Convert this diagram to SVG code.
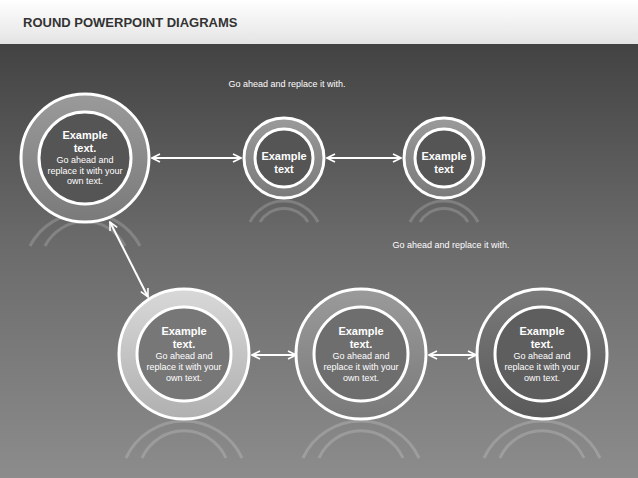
<svg xmlns="http://www.w3.org/2000/svg" width="638" height="478" viewBox="0 0 638 478">
<defs>
<linearGradient id="bg" x1="0" y1="0" x2="0" y2="1"><stop offset="0" stop-color="#3a3a3a"/><stop offset="0.5" stop-color="#6a6a6a"/><stop offset="1" stop-color="#8c8c8c"/></linearGradient>
<linearGradient id="hd" x1="0" y1="0" x2="0" y2="1"><stop offset="0" stop-color="#ffffff"/><stop offset="1" stop-color="#e4e4e4"/></linearGradient>
<linearGradient id="ringL" x1="0" y1="0" x2="0" y2="1"><stop offset="0" stop-color="#d8d8d8"/><stop offset="1" stop-color="#b0b0b0"/></linearGradient>
<linearGradient id="ringM" x1="0" y1="0" x2="0" y2="1"><stop offset="0" stop-color="#9a9a9a"/><stop offset="1" stop-color="#7a7a7a"/></linearGradient>
<linearGradient id="ringD" x1="0" y1="0" x2="0" y2="1"><stop offset="0" stop-color="#7a7a7a"/><stop offset="1" stop-color="#5a5a5a"/></linearGradient>
<marker id="ah" viewBox="0 0 10 10" refX="9" refY="5" markerWidth="5" markerHeight="5" orient="auto-start-reverse"><path d="M1,1 L9,5 L1,9" fill="none" stroke="#fff" stroke-width="1.6"/></marker>
</defs>
<style>
.o{stroke:#fff;stroke-width:3}
.i{stroke:#fff;stroke-width:3}
.t{font-family:"Liberation Sans",Arial,sans-serif;fill:#fff;text-anchor:middle}
.b{font-weight:bold;font-size:11px}
.s{font-size:9px}
.r{fill:none;stroke:#fff;stroke-opacity:0.18;stroke-width:3}
.c{stroke:#fff;stroke-width:2;fill:none;marker-start:url(#ah);marker-end:url(#ah)}
</style>
<rect width="638" height="478" fill="url(#bg)"/>
<rect width="638" height="44" fill="url(#hd)"/>
<text x="23" y="27" font-family="Liberation Sans,Arial,sans-serif" font-weight="bold" font-size="13" fill="#333">ROUND POWERPOINT DIAGRAMS</text>
<text class="t" x="287" y="87" font-size="9">Go ahead and replace it with.</text>
<text class="t" x="451" y="248" font-size="9">Go ahead and replace it with.</text>
<g id="reflections">
<path class="r" d="M30,246 A62,62 0 0 1 140,246"/><path class="r" d="M45,246 A45,45 0 0 1 125,246"/>
<path class="r" d="M250,222 A38,38 0 0 1 318,222"/><path class="r" d="M260,222 A28,28 0 0 1 308,222"/>
<path class="r" d="M410,222 A38,38 0 0 1 478,222"/><path class="r" d="M420,222 A28,28 0 0 1 468,222"/>
<path class="r" d="M126,458 A64,64 0 0 1 242,458"/><path class="r" d="M142,458 A46,46 0 0 1 226,458"/>
<path class="r" d="M303,458 A64,64 0 0 1 419,458"/><path class="r" d="M319,458 A46,46 0 0 1 403,458"/>
<path class="r" d="M484,458 A64,64 0 0 1 600,458"/><path class="r" d="M500,458 A46,46 0 0 1 584,458"/>
</g>
<g id="connectors">
<line class="c" x1="152" y1="158" x2="241" y2="158"/>
<line class="c" x1="327" y1="158" x2="401" y2="158"/>
<line class="c" x1="110" y1="222" x2="148" y2="297"/>
<line class="c" x1="252" y1="355" x2="296" y2="355"/>
<line class="c" x1="429" y1="355" x2="476" y2="355"/>
</g>
<g id="nodeA"><circle class="o" cx="85" cy="158" r="64" fill="url(#ringM)"/><circle class="i" cx="85" cy="158" r="46" fill="#555"/>
<text class="t b" x="85" y="139">Example</text><text class="t b" x="85" y="152">text.</text>
<text class="t s" x="85" y="163">Go ahead and</text><text class="t s" x="85" y="174">replace it with your</text><text class="t s" x="85" y="184">own text.</text></g>
<g id="nodeB"><circle class="o" cx="284" cy="158" r="40" fill="url(#ringM)"/><circle class="i" cx="284" cy="158" r="29" fill="#555"/>
<text class="t b" x="284" y="160">Example</text><text class="t b" x="284" y="173">text</text></g>
<g id="nodeC"><circle class="o" cx="444" cy="158" r="40" fill="url(#ringM)"/><circle class="i" cx="444" cy="158" r="29" fill="#555"/>
<text class="t b" x="444" y="160">Example</text><text class="t b" x="444" y="173">text</text></g>
<g id="nodeD"><circle class="o" cx="184" cy="354" r="65" fill="url(#ringL)"/><circle class="i" cx="184" cy="354" r="47" fill="#777"/>
<text class="t b" x="184" y="335">Example</text><text class="t b" x="184" y="348">text.</text>
<text class="t s" x="184" y="359">Go ahead and</text><text class="t s" x="184" y="370">replace it with your</text><text class="t s" x="184" y="381">own text.</text></g>
<g id="nodeE"><circle class="o" cx="361" cy="354" r="65" fill="url(#ringM)"/><circle class="i" cx="361" cy="354" r="47" fill="#6e6e6e"/>
<text class="t b" x="361" y="335">Example</text><text class="t b" x="361" y="348">text.</text>
<text class="t s" x="361" y="359">Go ahead and</text><text class="t s" x="361" y="370">replace it with your</text><text class="t s" x="361" y="381">own text.</text></g>
<g id="nodeF"><circle class="o" cx="542" cy="354" r="65" fill="url(#ringD)"/><circle class="i" cx="542" cy="354" r="47" fill="#5e5e5e"/>
<text class="t b" x="542" y="335">Example</text><text class="t b" x="542" y="348">text.</text>
<text class="t s" x="542" y="359">Go ahead and</text><text class="t s" x="542" y="370">replace it with your</text><text class="t s" x="542" y="381">own text.</text></g>
</svg>
